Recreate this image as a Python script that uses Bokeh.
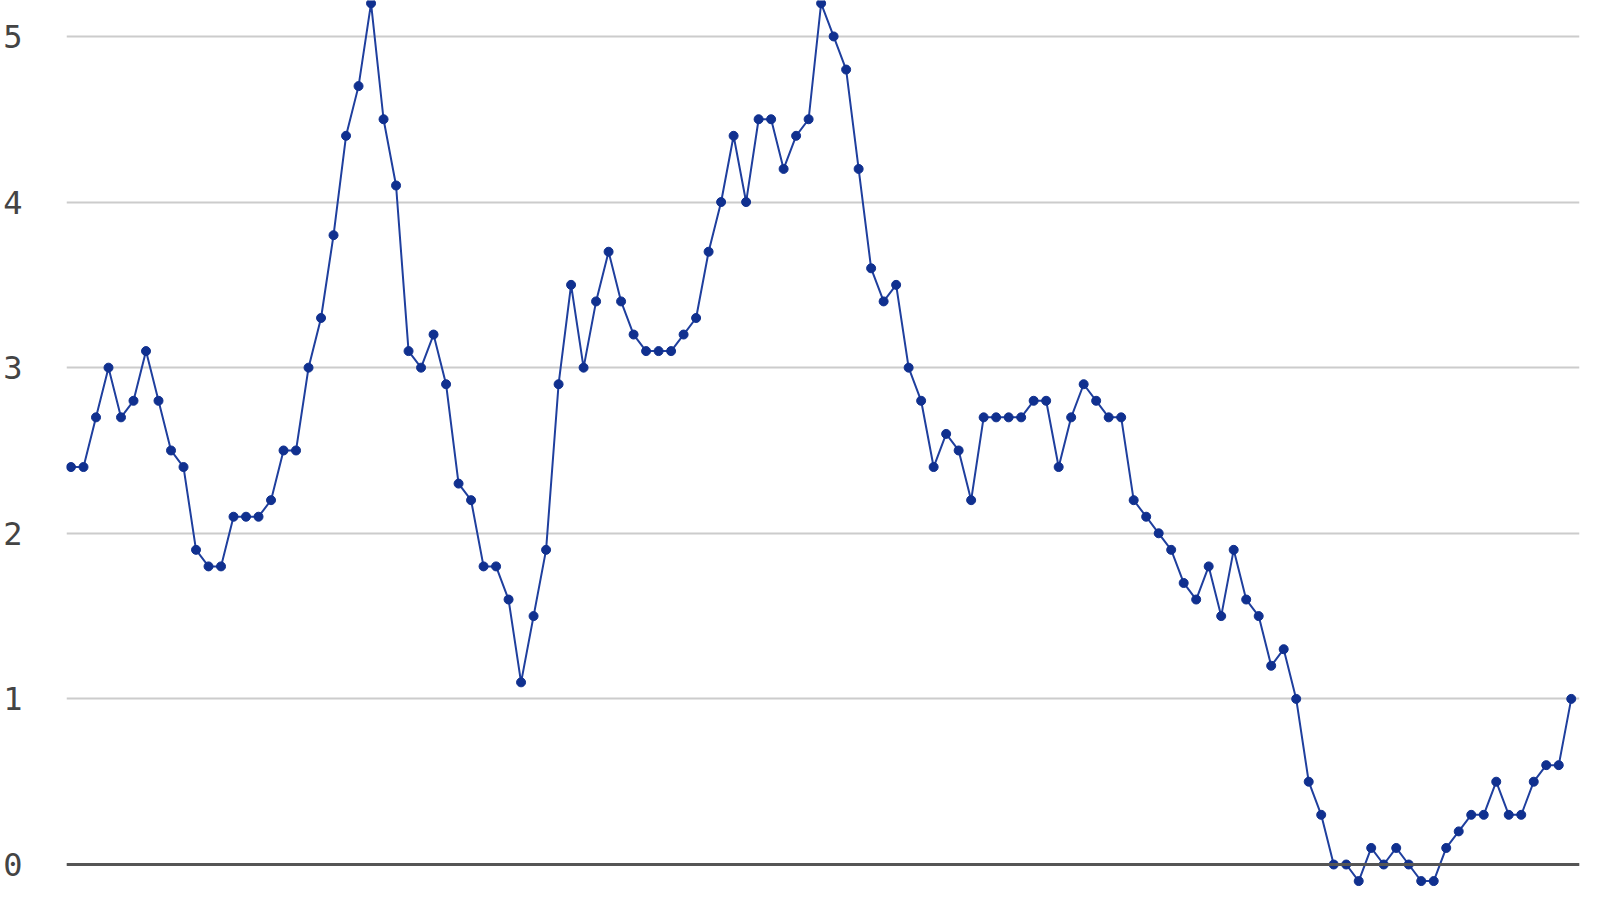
from bokeh.plotting import figure
from bokeh.models import Range1d, FixedTicker, Span
from bokeh.embed import file_html
from bokeh.resources import INLINE

# one value per period
values = [2.4, 2.4, 2.7, 3.0, 2.7, 2.8, 3.1, 2.8, 2.5, 2.4,
          1.9, 1.8, 1.8, 2.1, 2.1, 2.1, 2.2, 2.5, 2.5, 3.0,
          3.3, 3.8, 4.4, 4.7, 5.2, 4.5, 4.1, 3.1, 3.0, 3.2,
          2.9, 2.3, 2.2, 1.8, 1.8, 1.6, 1.1, 1.5, 1.9, 2.9,
          3.5, 3.0, 3.4, 3.7, 3.4, 3.2, 3.1, 3.1, 3.1, 3.2,
          3.3, 3.7, 4.0, 4.4, 4.0, 4.5, 4.5, 4.2, 4.4, 4.5,
          5.2, 5.0, 4.8, 4.2, 3.6, 3.4, 3.5, 3.0, 2.8, 2.4,
          2.6, 2.5, 2.2, 2.7, 2.7, 2.7, 2.7, 2.8, 2.8, 2.4,
          2.7, 2.9, 2.8, 2.7, 2.7, 2.2, 2.1, 2.0, 1.9, 1.7,
          1.6, 1.8, 1.5, 1.9, 1.6, 1.5, 1.2, 1.3, 1.0, 0.5,
          0.3, 0.0, 0.0, -0.1, 0.1, 0.0, 0.1, 0.0, -0.1, -0.1,
          0.1, 0.2, 0.3, 0.3, 0.5, 0.3, 0.3, 0.5, 0.6, 0.6,
          1.0]
periods = list(range(len(values)))
y_ticks = [0, 1, 2, 3, 4, 5]

p = figure(frame_width=1513, frame_height=892,
           x_range=Range1d(-0.36, 120.66), y_range=Range1d(-0.169, 5.217),
           output_backend="svg", toolbar_location=None,
           min_border_left=60, min_border_right=10,
           min_border_top=0, min_border_bottom=0)
p.outline_line_color = None
p.xaxis.visible = False
p.xgrid.visible = False

p.yaxis.ticker = FixedTicker(ticks=y_ticks)
p.yaxis.axis_line_color = None
p.yaxis.major_tick_line_color = None
p.yaxis.minor_tick_line_color = None
p.yaxis.major_label_text_font = "DejaVu Sans Mono"
p.yaxis.major_label_text_font_size = "32px"
p.yaxis.major_label_text_color = "#444444"
p.yaxis.major_label_standoff = 38

p.ygrid.grid_line_color = "#cccccc"
p.ygrid.grid_line_width = 2

# darker baseline at zero
p.add_layout(Span(location=0, dimension="width", line_color="#555555", line_width=3))

p.line(periods, values, line_color="#1f3f9e", line_width=2)
p.scatter(periods, values, size=9, fill_color="#10308f", line_color="#10308f")

open("out.html", "w").write(file_html(p, INLINE))
